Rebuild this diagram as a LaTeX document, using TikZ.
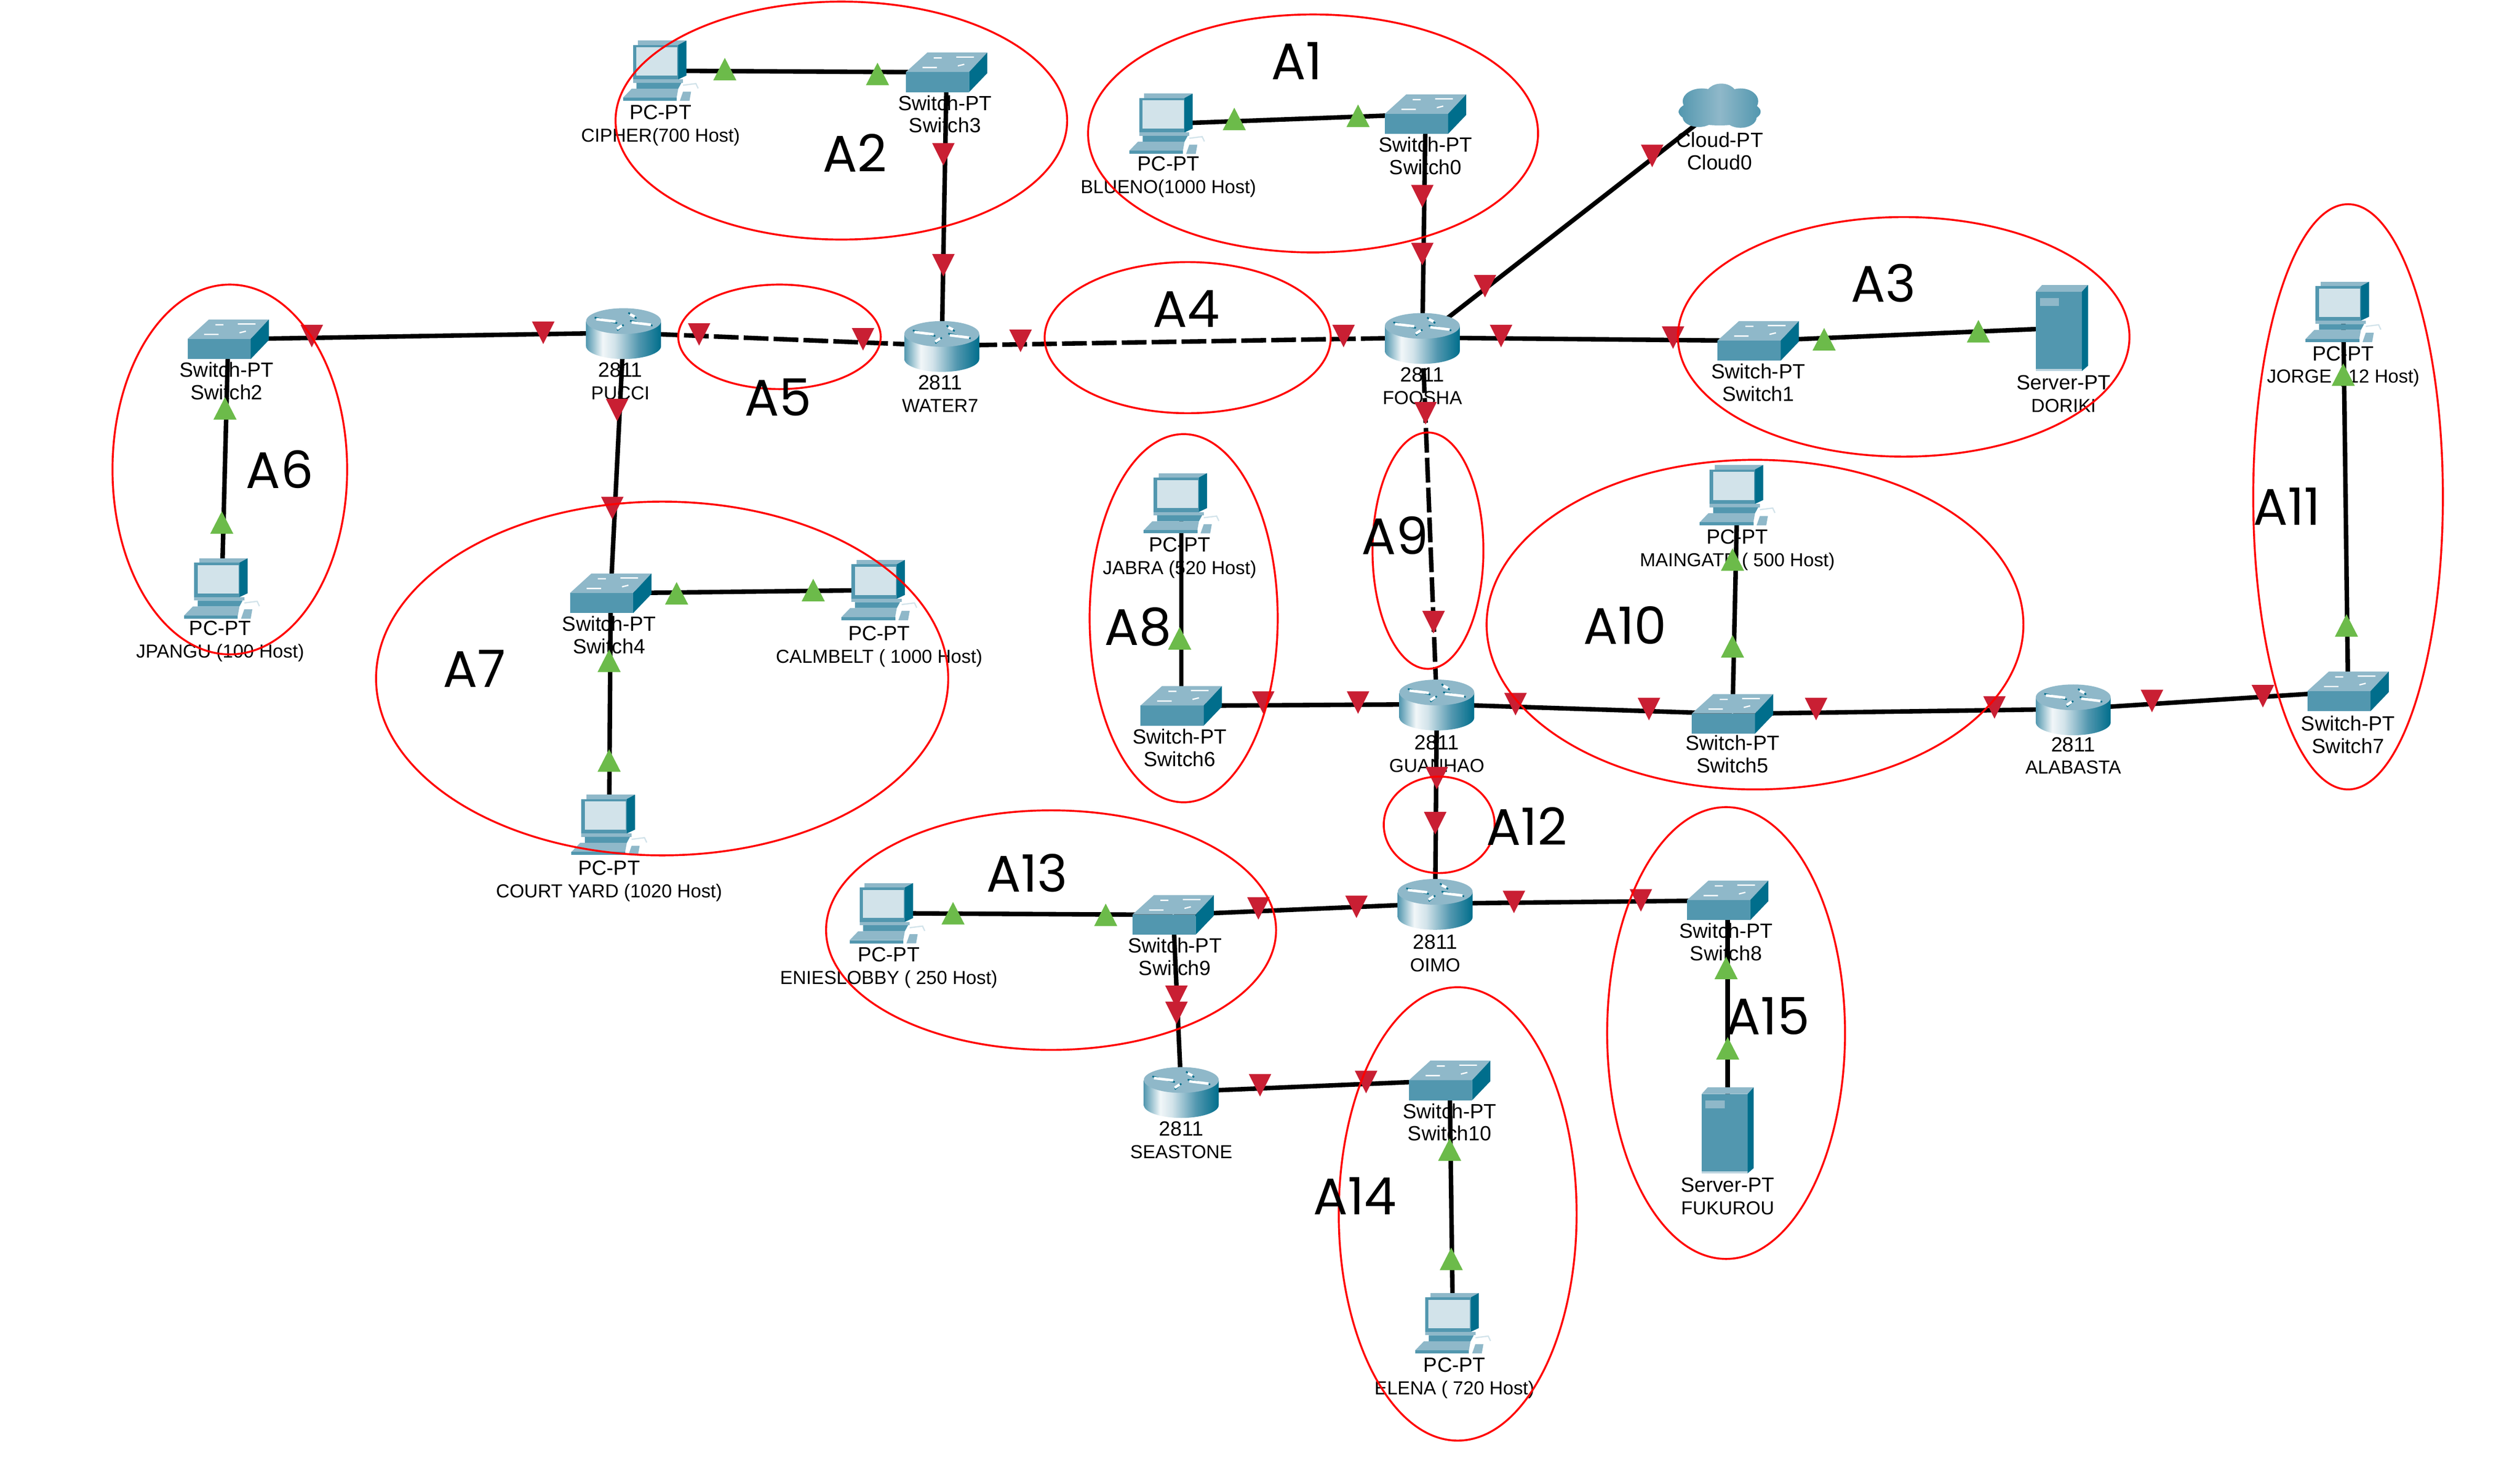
\documentclass[tikz,border=0pt]{standalone}
\usepackage{fontspec}
\setmainfont{Liberation Sans}
\newfontfamily\zonefont{Poppins}
\newcommand{\capline}[1]{{\fontsize{5.85}{7}\selectfont #1}}
\definecolor{icofront}{HTML}{5297AF}
\definecolor{icotop}{HTML}{8FB8C9}
\definecolor{icoside}{HTML}{006E8C}
\definecolor{icoscreen}{HTML}{D2E3EA}
\definecolor{trired}{HTML}{C91F33}
\definecolor{trigreen}{HTML}{6CBB4A}
\pgfdeclarehorizontalshading{routerbody}{100bp}{color(0bp)=(icofront); color(25bp)=(icofront); color(36bp)=(icoscreen!30!white); color(44bp)=(icoscreen); color(60bp)=(icofront); color(75bp)=(icoside); color(100bp)=(icoside)}
\pgfdeclarehorizontalshading{cloudbody}{100bp}{color(0bp)=(icofront); color(25bp)=(icofront); color(50bp)=(icotop); color(75bp)=(icofront); color(100bp)=(icofront)}
\tikzset{
  dev/.style={inner sep=0pt,minimum size=0pt},
  link/.style={line width=1.4pt,black},
  dashlink/.style={link,dash pattern=on 7.7pt off 1.6pt},
  lab/.style={inner sep=0pt,align=center,font=\fontsize{6.4}{7}\selectfont},
  zone/.style={draw=red,line width=0.6pt},
  zonelab/.style={inner sep=0pt,font=\zonefont\fontsize{16}{17}\selectfont},
  pics/swicon/.style={code={
    \fill[icofront] (-25.3,-0.2) rectangle (14,12.3);
    \fill[icotop] (-25.3,-0.2) -- (-12,-12.3) -- (25.3,-12.3) -- (14,-0.2) -- cycle;
    \fill[icoside] (14,-0.2) -- (25.3,-12.3) -- (25.3,0.5) -- (14,12.3) -- cycle;
    \draw[white,line width=0.4pt] (-8,-9) -- (-3,-9) (6,-9.5) -- (17,-9.5) (-15,-3) -- (-6,-3) (7,-4) -- (11,-5);
  }},
  pics/routericon/.style={code={
    \shade[shading=routerbody] (-23.3,-7) -- (-23.3,8.3) arc (180:0:23.3 and 8) -- (23.3,-7) -- cycle;
    \fill[icotop] (0,-7.3) ellipse [x radius=23.3,y radius=8];
    \draw[icoside,line width=0.5pt] (-18,-9.5) -- (-4,-6) (3,-12.5) -- (8,-9) (18,-4.5) -- (4,-7.5) (-4,-1.5) -- (0,-5);
    \draw[white,line width=0.8pt] (-17,-8.5) -- (-5,-7) (4,-11.5) -- (7,-10) (17,-5) -- (5,-6.5) (-4,-2.5) -- (-1,-4.5);
  }},
  pics/pcicon/.style={code={
    \fill[icotop] (-14,-18.75) rectangle (16,-16);
    \fill[icofront] (-17.2,-16) rectangle (11,5.4);
    \fill[icoside] (11,-16) -- (16.1,-18.75) -- (16.1,3) -- (11,5.4) -- cycle;
    \fill[icoscreen] (-15.1,-14.5) rectangle (10.5,3);
    \fill[icotop] (-17.2,5.4) rectangle (14,7.5);
    \fill[icofront] (-15,7.5) -- (13,7.5) -- (11,11.2) -- (-15,11.2) -- cycle;
    \fill[icotop] (-18,11.2) -- (11,11.2) -- (10,16.8) -- (-23.4,16.8) -- cycle;
    \fill[icofront] (-23.4,16.8) rectangle (10,18.75);
    \fill[icotop] (14,13) -- (19,13) -- (18,18.75) -- (12,18.75) -- cycle;
    \draw[icoscreen,line width=0.4pt] (14,9) -- (22,8) -- (23.4,11);
  }},
  pics/servericon/.style={code={
    \fill[icofront] (-16.2,-22.6) rectangle (12.4,25.4);
    \fill[icotop!60!white] (-16.2,25.4) rectangle (12.4,26.75);
    \fill[icotop] (-16.2,-22.6) -- (-12.4,-26.75) -- (16.2,-26.75) -- (12.4,-22.6) -- cycle;
    \fill[icoside] (12.4,-22.6) -- (16.2,-26.75) -- (16.2,23.5) -- (12.4,26.75) -- cycle;
    \fill[icotop] (-13.8,-18.6) rectangle (-1.8,-13.7);
  }},
  pics/cloudicon/.style={code={
    \shade[shading=cloudbody] (0,3.5) ellipse [x radius=25.5,y radius=8.5]
      (-11,-3) ellipse [x radius=12,y radius=8]
      (1,-6) ellipse [x radius=10,y radius=8]
      (13,-3) ellipse [x radius=11,y radius=8]
      (-13,7) ellipse [x radius=10,y radius=6]
      (13,7) ellipse [x radius=10,y radius=6.5];
  }},
  pics/redtri/.style={code={\fill[trired] (-7,-7) -- (7,-7) -- (0,7) -- cycle;}},
  pics/greentri/.style={code={\fill[trigreen] (-7.2,7) -- (7.2,7) -- (0,-7) -- cycle;}},
}
\begin{document}
\begin{tikzpicture}[x=0.5pt,y=-0.5pt]
\useasboundingbox (0,0) rectangle (1568,908.6);
% devices (anchor nodes)
\foreach \n/\x/\y in {cipher/411/44,swc/589/45,blueno/726/77,swa/887/71,cloudz/1070/66,foosha/885/210,swb/1094/212,doriki/1283/204,water/586/215,pucci/388/207,swd/142/211,jpangu/138/366,swe/380/369,calmbelt/547/367,court/379/513,jabra/735/313,swf/735/439,guanhao/894/438,swg/1078/444,maingate/1081/308,alabasta/1290/441,swh/1461/430,jorge/1458/194,swi/730/569,oimo/893/562,swj/1075/560,enies/552/568,fukurou/1075/703,seastone/735/679,swk/902/672,elena/904/823}
  {\node[dev] (\n) at (\x,\y) {};}
% connectors
\draw[link] (cipher) -- (swc);
\draw[link] (swc) -- (water);
\draw[link] (blueno) -- (swa);
\draw[link] (swa) -- (foosha);
\draw[link] (foosha) -- (cloudz);
\draw[link] (foosha) -- (swb);
\draw[link] (swb) -- (doriki);
\draw[dashlink] (pucci) -- (water);
\draw[dashlink] (water) -- (foosha);
\draw[dashlink] (foosha) -- (guanhao);
\draw[link] (swd) -- (pucci);
\draw[link] (swd) -- (jpangu);
\draw[link] (pucci) -- (swe);
\draw[link] (swe) -- (calmbelt);
\draw[link] (swe) -- (court);
\draw[link] (jabra) -- (swf);
\draw[link] (swf) -- (guanhao);
\draw[link] (guanhao) -- (swg);
\draw[link] (swg) -- (maingate);
\draw[link] (swg) -- (alabasta);
\draw[link] (alabasta) -- (swh);
\draw[link] (swh) -- (jorge);
\draw[link] (guanhao) -- (oimo);
\draw[link] (oimo) -- (swi);
\draw[link] (oimo) -- (swj);
\draw[link] (swi) -- (enies);
\draw[link] (swi) -- (seastone);
\draw[link] (seastone) -- (swk);
\draw[link] (swk) -- (elena);
\draw[link] (swj) -- (fukurou);
% icons
\foreach \n in {swc,swa,swb,swd,swe,swf,swg,swh,swi,swj,swk} {\pic at (\n) {swicon};}
\foreach \n in {pucci,water,foosha,guanhao,alabasta,oimo,seastone} {\pic at (\n) {routericon};}
\foreach \n in {cipher,blueno,jpangu,calmbelt,court,jabra,maingate,jorge,enies,elena} {\pic at (\n) {pcicon};}
\foreach \n in {doriki,fukurou} {\pic at (\n) {servericon};}
\pic at (cloudz) {cloudicon};
% device labels
\node[lab] (lcipher) at (411,78) {PC-PT\\\capline{CIPHER(700 Host)}};
\node[lab] (lswc) at (588,71) {Switch-PT\\Switch3};
\node[lab] (lblueno) at (727,110) {PC-PT\\\capline{BLUENO(1000 Host)}};
\node[lab] (lswa) at (887,97) {Switch-PT\\Switch0};
\node[lab] (lcloud) at (1070,94) {Cloud-PT\\Cloud0};
\node[lab] (lfoosha) at (885,240) {2811\\\capline{FOOSHA}};
\node[lab] (lswb) at (1094,238) {Switch-PT\\Switch1};
\node[lab] (ldoriki) at (1284,245) {Server-PT\\\capline{DORIKI}};
\node[lab] (lwater) at (585,245) {2811\\\capline{WATER7}};
\node[lab] (lpucci) at (386,237) {2811\\\capline{PUCCI}};
\node[lab] (lswd) at (141,237) {Switch-PT\\Switch2};
\node[lab] (ljpangu) at (137,399) {PC-PT\\\capline{JPANGU (100 Host)}};
\node[lab] (lswe) at (379,395) {Switch-PT\\Switch4};
\node[lab] (lcalmbelt) at (547,402) {PC-PT\\\capline{CALMBELT ( 1000 Host)}};
\node[lab] (lcourt) at (379,548) {PC-PT\\\capline{COURT YARD (1020 Host)}};
\node[lab] (ljabra) at (734,347) {PC-PT\\\capline{JABRA (520 Host)}};
\node[lab] (lswf) at (734,465) {Switch-PT\\Switch6};
\node[lab] (lguanhao) at (894,469) {2811\\\capline{GUANHAO}};
\node[lab] (lswg) at (1078,469) {Switch-PT\\Switch5};
\node[lab] (lmaingate) at (1081,342) {PC-PT\\\capline{MAINGATE ( 500 Host)}};
\node[lab] (lalabasta) at (1290,470) {2811\\\capline{ALABASTA}};
\node[lab] (lswh) at (1461,457) {Switch-PT\\Switch7};
\node[lab] (ljorge) at (1458,228) {PC-PT\\\capline{JORGE ( 12 Host)}};
\node[lab] (lswi) at (731,595) {Switch-PT\\Switch9};
\node[lab] (loimo) at (893,593) {2811\\\capline{OIMO}};
\node[lab] (lswj) at (1074,586) {Switch-PT\\Switch8};
\node[lab] (lenies) at (553,602) {PC-PT\\\capline{ENIESLOBBY ( 250 Host)}};
\node[lab] (lfukurou) at (1075,744) {Server-PT\\\capline{FUKUROU}};
\node[lab] (lseastone) at (735,709) {2811\\\capline{SEASTONE}};
\node[lab] (lswk) at (902,698) {Switch-PT\\Switch10};
\node[lab] (lelena) at (905,857) {PC-PT\\\capline{ELENA ( 720 Host)}};
% status triangles
\foreach \x/\y in {587/96,587/165,1028/97,924/178,885/122,885/158,194/209,338/207,435/208,537/211,635/212,836/209,934/209,1041/210,887/257,384/255,381/316,892/387,786/437,845/437,943/438,1026/441,1130/441,1241/440,1339/436,1408/433,894/484,893/512,783/565,844/564,942/561,1021/560,732/620,732/630,784/675,850/673}
  {\pic at (\x,\y) {redtri};}
\foreach \x/\y in {451/43,546/46,768/74,845/72,1135/211,1231/206,140/254,138/325,421/369,506/367,379/411,379/473,734/397,1078/348,1078/402,1458/233,1460/389,593/568,688/569,1074/602,1075/652,902/715,903/783}
  {\pic at (\x,\y) {greentri};}
% areas
\foreach \xa/\xb/\ya/\yb in {677/957/9/157,383/664/1/149,1044/1325/135/284,650/828/163/257,422/548/177/242,70/216/177/407,234/590/312/532,678/795/270/499,854/923/269/416,925/1259/286/491,1402/1520/127/491,861/930/483/543,514/794/504/653,833/981/614/896,1000/1148/502/783}
  {\pgfmathsetmacro\cx{(\xa+\xb)/2}\pgfmathsetmacro\cy{(\ya+\yb)/2}\pgfmathsetmacro\rx{(\xb-\xa)/2}\pgfmathsetmacro\ry{(\yb-\ya)/2}
   \draw[zone] (\cx,\cy) ellipse [x radius=\rx,y radius=\ry];}
\node[zonelab] (za) at (807,38) {A1};
\node[zonelab] (zb) at (532,95) {A2};
\node[zonelab] (zc) at (1172,176) {A3};
\node[zonelab] (zd) at (738,192) {A4};
\node[zonelab] (ze) at (484,247) {A5};
\node[zonelab] (zf) at (174,292) {A6};
\node[zonelab] (zg) at (295,416) {A7};
\node[zonelab] (zh) at (708,390) {A8};
\node[zonelab] (zi) at (868,333) {A9};
\node[zonelab] (zj) at (1011,389) {A10};
\node[zonelab] (zk) at (1423,315) {A11};
\node[zonelab] (zl) at (950,514) {A12};
\node[zonelab] (zm) at (639,543) {A13};
\node[zonelab] (zn) at (843,744) {A14};
\node[zonelab] (zo) at (1100,632) {A15};
\end{tikzpicture}
\end{document}
